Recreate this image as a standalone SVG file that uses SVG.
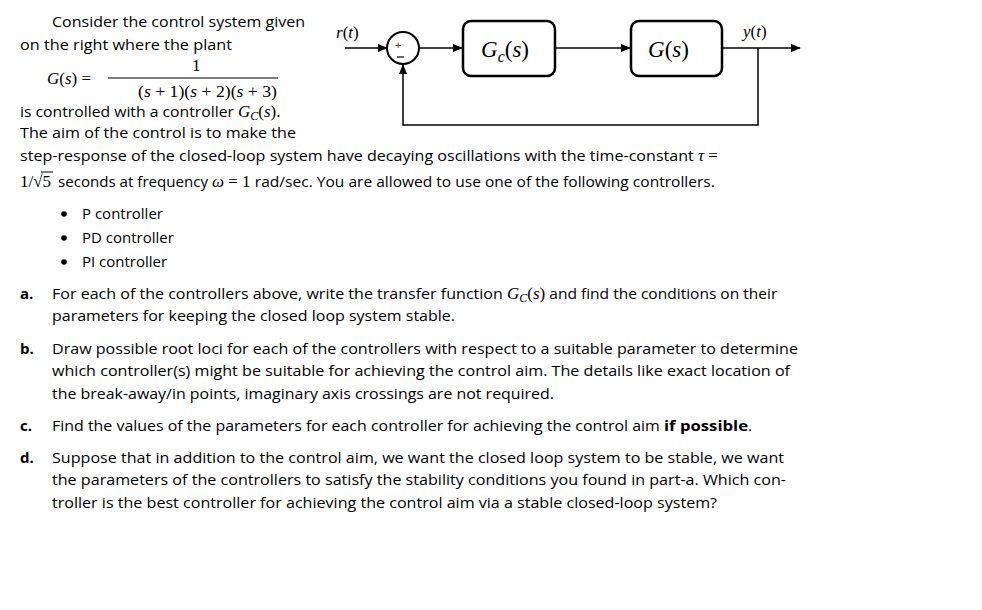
<svg xmlns="http://www.w3.org/2000/svg" width="982" height="610" viewBox="0 0 982 610">
<defs>
<marker id="ar" markerWidth="10" markerHeight="8" refX="9" refY="4" orient="auto" markerUnits="userSpaceOnUse"><path d="M0,0 L10,4 L0,8 Z" fill="#000"/></marker>
<style>
.t{font-family:"Open Sans","Liberation Sans",sans-serif;font-size:15px;fill:#000}
.m{font-family:"Liberation Serif",serif;font-style:italic;font-size:17px;fill:#000}
.r{font-family:"Liberation Serif",serif;font-style:normal;fill:#000}
.b{font-weight:bold}
.ln{stroke:#000;stroke-width:1.5;fill:none}
.box{fill:#fff;stroke:#000;stroke-width:2.5}
.big{font-size:23px}
.sub{font-size:12px}
.subb{font-size:16px}
</style>
</defs>
<rect width="982" height="610" fill="#fff"/>
<g id="text">
<text class="t" x="52" y="27" textLength="253" lengthAdjust="spacingAndGlyphs">Consider the control system given</text>
<text class="t" x="20" y="50" textLength="212" lengthAdjust="spacingAndGlyphs">on the right where the plant</text>
<text class="m" x="47" y="84">G<tspan class="r">(</tspan>s<tspan class="r">) =</tspan></text>
<text class="m r" x="192" y="71">1</text>
<line x1="108" y1="78" x2="278" y2="78" stroke="#000" stroke-width="1.2"/>
<text class="m r" x="138" y="97" textLength="139" lengthAdjust="spacingAndGlyphs">(<tspan class="m">s</tspan> + 1)(<tspan class="m">s</tspan> + 2)(<tspan class="m">s</tspan> + 3)</text>
<text class="t" x="20" y="117"><tspan textLength="218" lengthAdjust="spacingAndGlyphs">is controlled with a controller </tspan><tspan class="m">G<tspan class="sub" dy="3">C</tspan><tspan class="r" dy="-3">(</tspan>s<tspan class="r">).</tspan></tspan></text>
<text class="t" x="20" y="138" textLength="276" lengthAdjust="spacingAndGlyphs">The aim of the control is to make the</text>
<text class="t" x="20" y="161"><tspan textLength="678" lengthAdjust="spacingAndGlyphs">step-response of the closed-loop system have decaying oscillations with the time-constant </tspan><tspan class="m"> τ</tspan><tspan class="m r"> =</tspan></text>
<text class="m r" x="20" y="187">1/√5</text>
<line x1="41" y1="172" x2="53" y2="172" stroke="#000" stroke-width="1"/>
<text class="t" x="58" y="187"><tspan textLength="154" lengthAdjust="spacingAndGlyphs">seconds at frequency </tspan><tspan class="m">ω</tspan><tspan class="m r"> = 1 </tspan><tspan textLength="460" lengthAdjust="spacingAndGlyphs">rad/sec. You are allowed to use one of the following controllers.</tspan></text>
<circle cx="64" cy="214" r="2.8"/><text class="t" x="82" y="219">P controller</text>
<circle cx="64" cy="238" r="2.8"/><text class="t" x="82" y="243">PD controller</text>
<circle cx="64" cy="262" r="2.8"/><text class="t" x="82" y="267">PI controller</text>
<text class="t b" x="20" y="299">a.</text>
<text class="t" x="52" y="299"><tspan textLength="455" lengthAdjust="spacingAndGlyphs">For each of the controllers above, write the transfer function </tspan><tspan class="m">G<tspan class="sub" dy="3">C</tspan><tspan class="r" dy="-3">(</tspan>s<tspan class="r">)</tspan></tspan><tspan textLength="232" lengthAdjust="spacingAndGlyphs"> and find the conditions on their</tspan></text>
<text class="t" x="52" y="321" textLength="403" lengthAdjust="spacingAndGlyphs">parameters for keeping the closed loop system stable.</text>
<text class="t b" x="20" y="354">b.</text>
<text class="t" x="52" y="354" textLength="746" lengthAdjust="spacingAndGlyphs">Draw possible root loci for each of the controllers with respect to a suitable parameter to determine</text>
<text class="t" x="52" y="376" textLength="738" lengthAdjust="spacingAndGlyphs">which controller(s) might be suitable for achieving the control aim. The details like exact location of</text>
<text class="t" x="52" y="399" textLength="502" lengthAdjust="spacingAndGlyphs">the break-away/in points, imaginary axis crossings are not required.</text>
<text class="t b" x="20" y="431">c.</text>
<text class="t" x="52" y="431"><tspan textLength="612" lengthAdjust="spacingAndGlyphs">Find the values of the parameters for each controller for achieving the control aim </tspan><tspan class="b" textLength="84" lengthAdjust="spacingAndGlyphs">if possible</tspan>.</text>
<text class="t b" x="20" y="463">d.</text>
<text class="t" x="52" y="463" textLength="732" lengthAdjust="spacingAndGlyphs">Suppose that in addition to the control aim, we want the closed loop system to be stable, we want</text>
<text class="t" x="52" y="485" textLength="734" lengthAdjust="spacingAndGlyphs">the parameters of the controllers to satisfy the stability conditions you found in part-a. Which con-</text>
<text class="t" x="52" y="508" textLength="665" lengthAdjust="spacingAndGlyphs">troller is the best controller for achieving the control aim via a stable closed-loop system?</text>
</g>
<g id="connectors">
<line class="ln" x1="345" y1="48" x2="387" y2="48" marker-end="url(#ar)"/>
<line class="ln" x1="419" y1="48" x2="462" y2="48" marker-end="url(#ar)"/>
<line class="ln" x1="556" y1="48" x2="630" y2="48" marker-end="url(#ar)"/>
<line class="ln" x1="722" y1="48" x2="800" y2="48" marker-end="url(#ar)" stroke="#666"/>
<polyline class="ln" points="758,48 758,125 403,125 403,65" marker-end="url(#ar)"/>
</g>
<g id="sum">
<circle cx="403" cy="48" r="16" fill="#fff" stroke="#000" stroke-width="2"/>
<text x="395" y="49" font-family="Liberation Sans,sans-serif" font-size="11" fill="#7a2020">+</text>
<line x1="397" y1="57" x2="404" y2="57" stroke="#000" stroke-width="1.2"/>
</g>
<g id="Gc"><rect class="box" x="463" y="21" width="92" height="55" rx="8"/><text class="m big" x="481" y="57">G<tspan class="subb" dy="5">c</tspan><tspan class="r" dy="-5">(</tspan>s<tspan class="r">)</tspan></text></g>
<g id="G"><rect class="box" x="631" y="21" width="91" height="55" rx="8"/><text class="m big" x="648" y="57">G<tspan class="r">(</tspan>s<tspan class="r">)</tspan></text></g>
<text class="m" x="336" y="38">r<tspan class="r">(</tspan>t<tspan class="r">)</tspan></text>
<text class="m" x="743" y="37">y<tspan class="r">(</tspan>t<tspan class="r">)</tspan></text>
</svg>
